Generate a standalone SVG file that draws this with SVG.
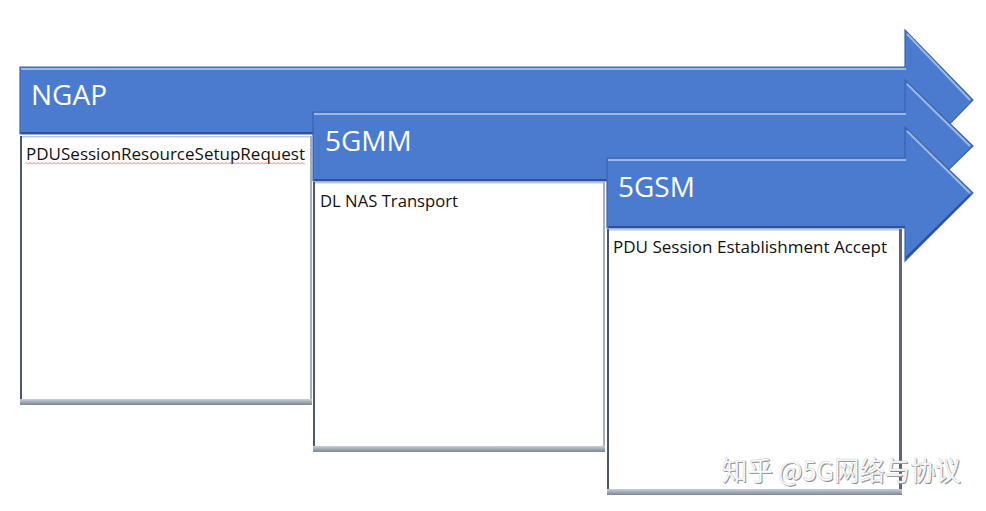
<svg xmlns="http://www.w3.org/2000/svg" width="986" height="511" viewBox="0 0 986 511">
<defs>
<style>
.arrow{fill:#4A7BCF;stroke:#3B64AE;stroke-width:1.2}
.hl{stroke:#9DB7E6;stroke-width:2;fill:none}
.sh{stroke:#2F5296;stroke-width:2;fill:none}
.box{fill:#FFFFFF}
.title{font-family:"Open Sans","Noto Sans",sans-serif;font-size:28px;fill:#FFFFFF}
.label{font-family:"Open Sans","Noto Sans",sans-serif;font-size:16px;fill:#111111}
.wm{font-family:"Noto Sans CJK SC",sans-serif;font-size:27px}
</style>
<linearGradient id="bot" x1="0" y1="0" x2="0" y2="1">
<stop offset="0" stop-color="#C9CFD9"/>
<stop offset="1" stop-color="#7C8596"/>
</linearGradient>
<pattern id="squig" width="4" height="3" patternUnits="userSpaceOnUse">
<polyline points="0,2.5 2,0.5 4,2.5" fill="none" stroke="#E0474C" stroke-width="0.8"/>
</pattern>
</defs>

<g id="ngap">
<polygon class="arrow" points="20,67 905,67 905,30 973,100 905,170 905,134 20,134"/>
<polyline class="hl" points="21,69 906,69"/>
<polyline class="hl" points="907,34 970,100"/>
<polyline class="sh" points="21,133 905,133"/>
<text class="title" x="31" y="105">NGAP</text>
</g>
<g id="ngap-box">
<rect class="box" x="20" y="136" width="292" height="269"/>
<rect x="20" y="136" width="292" height="1.5" fill="#B9C6DE"/>
<rect x="20" y="136" width="2" height="269" fill="#4C566C"/>
<rect x="310" y="136" width="2" height="269" fill="#A7AFBC"/>
<rect x="20" y="399" width="292" height="6" fill="url(#bot)"/>
<text class="label" x="26" y="160" textLength="279" lengthAdjust="spacingAndGlyphs">PDUSessionResourceSetupRequest</text>
<rect x="26" y="161.5" width="279" height="3" fill="url(#squig)"/>
</g>

<g id="fivegmm">
<polygon class="arrow" points="313,112 905,112 905,80 973,146 905,212 905,181 313,181"/>
<polyline class="hl" points="314,114 906,114"/>
<polyline class="hl" points="907,84 970,146"/>
<polyline class="sh" points="314,180 905,180"/>
<text class="title" x="325" y="151">5GMM</text>
</g>
<g id="fivegmm-box">
<rect class="box" x="313" y="182" width="292" height="270"/>
<rect x="313" y="182" width="292" height="1.5" fill="#B9C6DE"/>
<rect x="313" y="182" width="2" height="270" fill="#4C566C"/>
<rect x="603" y="182" width="2" height="270" fill="#A7AFBC"/>
<rect x="313" y="446" width="292" height="6" fill="url(#bot)"/>
<text class="label" x="320" y="207" textLength="138" lengthAdjust="spacingAndGlyphs">DL NAS Transport</text>
</g>

<g id="fivegsm">
<polygon class="arrow" points="607,158 905,158 905,127 973,193 905,261 905,228 607,228"/>
<polyline class="hl" points="608,160 906,160"/>
<polyline class="hl" points="907,131 970,193"/>
<polyline class="sh" points="608,227 905,227"/>
<polyline class="sh" points="970,195 906,258"/>
<text class="title" x="618" y="197">5GSM</text>
</g>
<g id="fivegsm-box">
<rect class="box" x="607" y="229" width="295" height="266"/>
<rect x="607" y="229" width="295" height="1.5" fill="#B9C6DE"/>
<rect x="607" y="229" width="2" height="266" fill="#4C566C"/>
<rect x="899" y="229" width="3" height="266" fill="#5E6779"/>
<rect x="607" y="489" width="295" height="6" fill="url(#bot)"/>
<text class="label" x="613" y="253" textLength="274" lengthAdjust="spacingAndGlyphs">PDU Session Establishment Accept</text>
</g>

<g id="connectors"></g>

<g id="watermark">
<text class="wm" x="723" y="482" fill="#8A8A8A" textLength="239" lengthAdjust="spacingAndGlyphs">知乎 @5G网络与协议</text>
<text class="wm" x="722" y="481" fill="#FFFFFF" stroke="#C8C8C8" stroke-width="0.4" textLength="239" lengthAdjust="spacingAndGlyphs">知乎 @5G网络与协议</text>
</g>
</svg>
